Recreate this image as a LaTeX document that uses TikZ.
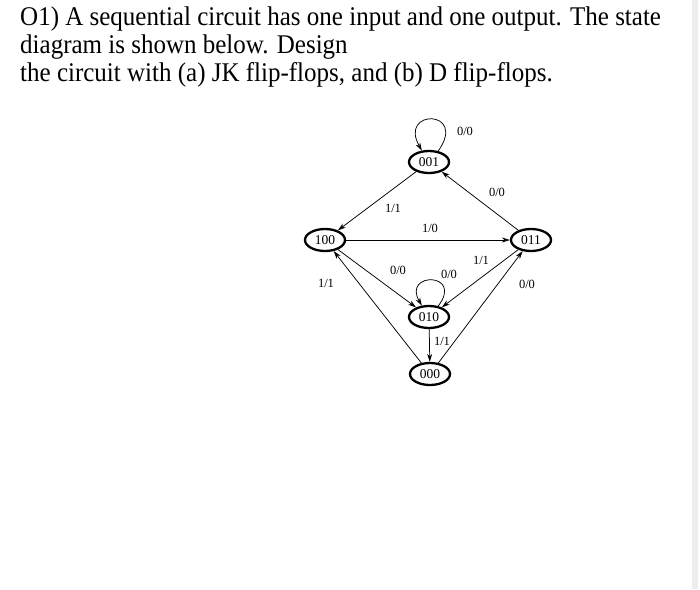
\documentclass[tikz,border=0pt]{standalone}
\usepackage{fontspec}
\setmainfont{Liberation Serif}
\usetikzlibrary{shapes.geometric,arrows.meta}
\tikzset{
  state/.style={ellipse,draw,line width=2.3pt,minimum width=40pt,minimum height=22pt,inner sep=0pt,font=\fontsize{13.5}{13.5}\selectfont},
  arr/.style={line width=0.75pt,-{Stealth[length=8pt,width=5pt]}},
  lbl/.style={font=\fontsize{12.5}{12.5}\selectfont,inner sep=0pt},
  qline/.style={anchor=base west,inner sep=0pt,font=\fontsize{25}{25}\selectfont}
}
\begin{document}
\begin{tikzpicture}[x=1pt,y=-1pt]
                    \useasboundingbox (0,0) rectangle (700,589);
                    \fill[gray!14] (692,0) rectangle (698,589);

                    \node[qline] (q1) at (20,25) {\scalebox{1}[1.08]{O1) A sequential circuit has one input and one output. The state}};
                    \node[qline] (q2) at (20,53) {\scalebox{1}[1.08]{diagram is shown below. Design}};
                    \node[qline] (q3) at (20,81.5) {\scalebox{1}[1.08]{the circuit with (a) JK flip-flops, and (b) D flip-flops.}};

                    \node[state] (s001) at (429,162) {001};
                    \node[state] (s100) at (325,240) {100};
                    \node[state] (s011) at (531,240) {011};
                    \node[state] (s010) at (429,317) {010};
                    \node[state] (s000) at (430,374) {000};

                    \draw[arr] (s001.50) .. controls +(30,-42) and +(-24,-42) .. (s001.122);
                    \draw[arr] (s001) -- (s100);
                    \draw[arr] (s011) -- (s001);
                    \draw[arr] (s100) -- (s011);
                    \draw[arr] (s100) -- (s010);
                    \draw[arr] (s011) -- (s010);
                    \draw[arr] (s010.50) .. controls +(26,-34) and +(-20,-34) .. (s010.122);
                    \draw[arr] (s010) -- (s000);
                    \draw[arr] (s000) -- (s100);
                    \draw[arr] (s000) -- (s011);

                    \node[lbl] (l1) at (465,131) {0/0};
                    \node[lbl] (l2) at (393,208) {1/1};
                    \node[lbl] (l3) at (497,192) {0/0};
                    \node[lbl] (l4) at (430,228) {1/0};
                    \node[lbl] (l5) at (398,270) {0/0};
                    \node[lbl] (l6) at (449,274) {0/0};
                    \node[lbl] (l7) at (481,260) {1/1};
                    \node[lbl] (l8) at (326,283) {1/1};
                    \node[lbl] (l9) at (527,284) {0/0};
                    \node[lbl] (l10) at (442,341) {1/1};
                \end{tikzpicture}
\end{document}
